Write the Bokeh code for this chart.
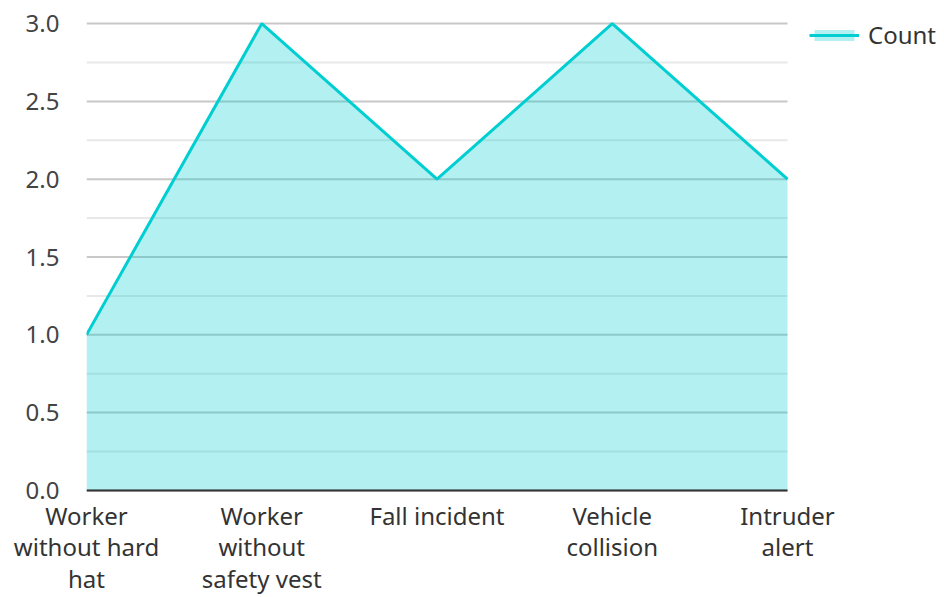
from bokeh.plotting import figure
from bokeh.models import ColumnDataSource, Range1d, FixedTicker, Legend, LegendItem
from bokeh.embed import file_html
from bokeh.resources import INLINE

categories = ["Worker\nwithout hard\nhat", "Worker\nwithout\nsafety vest", "Fall incident",
              "Vehicle\ncollision", "Intruder\nalert"]
counts = [1, 3, 2, 3, 2]
series_name = "Count"
y_ticks = [0.0, 0.5, 1.0, 1.5, 2.0, 2.5, 3.0]
y_minor = [0.25, 0.75, 1.25, 1.75, 2.25, 2.75]

LINE_C = "#00CED1"
FILL_A = 0.3
FONT = "Noto Sans"

xs = list(range(len(categories)))
src = ColumnDataSource(dict(x=xs, y=counts, base=[0] * len(xs)))

# plot frame extends to the right edge so the legend can sit inside it;
# the category axis still spans the first..last category (175.25 px per step)
x_end = xs[-1] + 157 / 175.25
p = figure(width=944, height=597,
           output_backend="svg", toolbar_location=None,
           x_range=Range1d(xs[0], x_end), y_range=Range1d(-0.02, 3.02),
           min_border_left=86, min_border_right=0, min_border_top=20, min_border_bottom=104)
p.outline_line_color = None

# horizontal grid drawn only across the category span
p.segment(x0=[xs[0]] * len(y_minor), x1=[xs[-1]] * len(y_minor), y0=y_minor, y1=y_minor,
          line_color="#e8e8e8", line_width=2, level="underlay")
p.segment(x0=[xs[0]] * len(y_ticks), x1=[xs[-1]] * len(y_ticks), y0=y_ticks, y1=y_ticks,
          line_color="#c8c8c8", line_width=2, level="underlay")

area = p.varea(x="x", y1="base", y2="y", source=src, fill_color=LINE_C, fill_alpha=FILL_A)
line = p.line(x="x", y="y", source=src, line_color=LINE_C, line_width=3)

# baseline (x axis line)
p.segment(x0=[xs[0]], x1=[xs[-1]], y0=[0], y1=[0], line_color="#333333", line_width=2)

p.xaxis.ticker = FixedTicker(ticks=xs)
p.xaxis.major_label_overrides = {i: c for i, c in zip(xs, categories)}
p.xaxis.major_label_text_font = FONT
p.xaxis.major_label_text_font_size = "24px"
p.xaxis.major_label_text_color = "#333333"
p.xaxis.major_label_text_line_height = 0.96
p.xaxis.major_label_standoff = 5
p.xaxis.axis_line_color = None
p.xaxis.major_tick_line_color = None
p.xaxis.minor_tick_line_color = None
p.xaxis.major_tick_out = 0
p.xaxis.major_tick_in = 0
p.xaxis.minor_tick_out = 0

p.yaxis.ticker = FixedTicker(ticks=y_ticks, minor_ticks=y_minor)
p.yaxis.major_label_overrides = {t: f"{t:.1f}" for t in y_ticks}
p.yaxis.major_label_text_font = FONT
p.yaxis.major_label_text_font_size = "24px"
p.yaxis.major_label_text_color = "#444444"
p.yaxis.major_label_standoff = 27
p.yaxis.axis_line_color = None
p.yaxis.major_tick_line_color = None
p.yaxis.minor_tick_line_color = None
p.yaxis.major_tick_out = 0
p.yaxis.minor_tick_out = 0

p.xgrid.grid_line_color = None
p.ygrid.grid_line_color = None

legend = Legend(items=[LegendItem(label=series_name, renderers=[area, line])],
                location=(723, 442), margin=0, padding=0,
                border_line_alpha=0, background_fill_alpha=0,
                glyph_width=50, glyph_height=14, label_standoff=9,
                label_text_font=FONT, label_text_font_size="24px", label_text_color="#333333")
p.add_layout(legend, "center")

open("out.html", "w").write(file_html(p, INLINE))
